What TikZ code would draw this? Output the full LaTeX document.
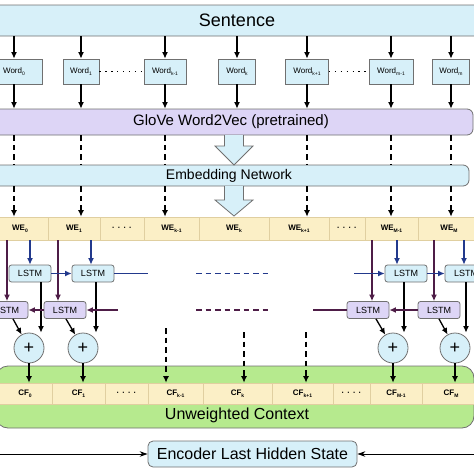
\documentclass[tikz,border=0pt]{standalone}
\usepackage{fontspec}
\setmainfont{Liberation Sans}
\usetikzlibrary{arrows.meta,positioning}
\definecolor{skyfill}{HTML}{D7F0F9}
\definecolor{lilacfill}{HTML}{DDD5F6}
\definecolor{creamfill}{HTML}{FBEFC6}
\definecolor{leaffill}{HTML}{B6EA8E}
\definecolor{edgegray}{HTML}{707070}
\definecolor{cellline}{HTML}{E0CFA0}
\definecolor{fwdblue}{HTML}{22398C}
\definecolor{bwdplum}{HTML}{4E1D47}
\newcommand{\pxfont}[1]{\fontsize{#1}{#1}\selectfont}
\newcommand{\lowidx}[1]{\raisebox{-.45ex}{\pxfont{5}#1}}
\newcommand{\cdotrow}{·\hspace{3pt}·\hspace{3pt}·\hspace{3pt}·}
\tikzset{
  band/.style={draw=edgegray, line width=.8pt, rounded corners=6pt, inner sep=0pt},
  wordbox/.style={draw=edgegray, fill=skyfill, line width=.8pt, minimum height=25, inner xsep=5, font=\pxfont{8}},
  cell/.style={draw=cellline, fill=creamfill, line width=.6pt, inner sep=0pt, font=\bfseries\pxfont{8}},
  lstmfwd/.style={draw=edgegray, fill=skyfill, line width=.8pt, rounded corners=2.5pt, minimum width=42, minimum height=17, inner sep=0pt, font=\pxfont{9}},
  lstmbwd/.style={lstmfwd, fill=lilacfill},
  sumnode/.style={circle, draw=edgegray, fill=skyfill, line width=.8pt, minimum size=30, inner sep=0pt, font=\pxfont{18}},
  arr/.style={line width=1.3pt, -{Latex[length=6.5pt,width=6pt]}},
  dashline/.style={line width=1.3pt, dash pattern=on 5.5pt off 4pt},
}
\begin{document}
\begin{tikzpicture}[x=1pt, y=-1pt]
  \useasboundingbox (0,0) rectangle (474,474);
  \clip (0,0) rectangle (474,474);
  % wide bands
  \node[band, fill=skyfill, minimum width=494, minimum height=31, font=\pxfont{18}] (sentence) at (237,20.5) {Sentence};
  \node[band, fill=lilacfill, minimum width=484, minimum height=26, font=\pxfont{15}] (glove) at (231,122) {GloVe Word2Vec (pretrained)};
  \node[band, fill=skyfill, minimum width=480, minimum height=21, font=\pxfont{14}] (embed) at (229,175.5) {Embedding Network};
  \node[band, fill=leaffill, rounded corners=12pt, minimum width=478, minimum height=62] (context) at (235,397) {};
  \node[font=\pxfont{16}] (ctxlabel) at (237,415) {Unweighted Context};
  % words
  \foreach \i/\x/\w/\t in {0/14/56/Word\lowidx{0}, 1/81/36/Word\lowidx{1}, 2/165/42/Word\lowidx{k-1}, 3/237/37/Word\lowidx{k},
                           4/307/43/Word\lowidx{k+1}, 5/391/44/Word\lowidx{m-1}, 6/451/37/Word\lowidx{m}}{
    \node[wordbox, minimum width=\w] (w\i) at (\x,71.5) {\t};
    \draw[arr] (w\i |- sentence.south) -- (w\i.north);
    \draw[arr] (w\i.south) -- (w\i |- glove.north);
  }
  \draw[line width=1.3pt, dash pattern=on 1.3pt off 4.6pt] (w1.east) -- (w2.west);
  \draw[line width=1.3pt, dash pattern=on 1.3pt off 4.6pt] (w4.east) -- (w5.west);
  % word embeddings and context cells
  \foreach \n/\a/\b/\t in {0/-8/48/WE\lowidx{0}, 1/48/100/WE\lowidx{1}, 2/100/144/\cdotrow, 3/144/199/WE\lowidx{k-1}, 4/199/269/WE\lowidx{k},
                           5/269/329/WE\lowidx{k+1}, 6/329/365/\cdotrow, 7/365/418/WE\lowidx{M-1}, 8/418/480/WE\lowidx{M}}{
    \pgfmathsetmacro\cellmid{(\a+\b)/2}
    \pgfmathsetmacro\cellwd{\b-\a}
    \node[cell, minimum width=\cellwd, minimum height=23] (we\n) at (\cellmid,228.5) {\t};
  }
  \foreach \n/\a/\b/\t in {0/-2/52/CF\lowidx{0}, 1/52/105/CF\lowidx{1}, 2/105/148/\cdotrow, 3/148/203/CF\lowidx{k-1}, 4/203/272/CF\lowidx{k},
                           5/272/333/CF\lowidx{k+1}, 6/333/370/\cdotrow, 7/370/422/CF\lowidx{M-1}, 8/422/480/CF\lowidx{M}}{
    \pgfmathsetmacro\cellmid{(\a+\b)/2}
    \pgfmathsetmacro\cellwd{\b-\a}
    \node[cell, minimum width=\cellwd, minimum height=21] (cf\n) at (\cellmid,393.5) {\t};
  }
  % pretrained lookup, dashed down to the embeddings
  \foreach \i in {0,1,2,4,5,6}{
    \draw[dashline] (w\i |- glove.south) -- (w\i |- embed.north);
    \draw[dashline, arr] (w\i |- embed.south) -- (w\i |- we0.north);
  }
  \foreach \a/\b/\c in {135/146/165, 186/200/216}
    \filldraw[fill=skyfill, draw=edgegray, line width=.8pt] (224.5,\a) -- (224.5,\b) -- (215,\b) -- (234,\c) -- (253,\b) -- (243.5,\b) -- (243.5,\a);
  % bidirectional LSTM and sums
  \foreach \i/\fx/\fdx/\fkx/\bx/\bdx/\bkx/\sx in {1/30/0/11/7/0/6/29, 2/93/-2/3/65/-7/1/83, 3/406/-9/-2/368/4/8/393, 4/466/-2/0/439/-5/0/455}{
    \node[lstmfwd] (f\i) at (\fx,273.5) {LSTM};
    \node[lstmbwd] (b\i) at (\bx,310) {LSTM};
    \node[sumnode] (s\i) at (\sx,348) {+};
    \draw[arr, fwdblue] ([xshift=\fdx]f\i.north |- we0.south) -- ([xshift=\fdx]f\i.north);
    \draw[arr, bwdplum] ([xshift=\bdx]b\i.north |- we0.south) -- ([xshift=\bdx]b\i.north);
    \draw[arr] ([xshift=\fkx]f\i.south) -- ([xshift=\fkx]f\i.south |- s\i.north);
    \draw[arr] ([xshift=\bkx]b\i.south) -- (s\i);
    \draw[arr] (s\i) -- (s\i |- cf0.north);
  }
  \coordinate (fwdtail) at (148,273.5);
  \coordinate (fwdgapL) at (196,273.5);
  \coordinate (fwdgapR) at (268,273.5);
  \coordinate (fwdhead) at (354,273.5);
  \coordinate (bwdhead) at (118,310);
  \coordinate (bwdgapL) at (196,310);
  \coordinate (bwdgapR) at (268,310);
  \coordinate (bwdtail) at (313,310);
  \draw[arr, fwdblue] (f1) -- (f2);
  \draw[line width=1.3pt, fwdblue] (f2) -- (fwdtail);
  \draw[dashline, fwdblue] (fwdgapL) -- (fwdgapR);
  \draw[arr, fwdblue] (fwdhead) -- (f3);
  \draw[arr, fwdblue] (f3) -- (f4);
  \draw[arr, bwdplum] (bwdhead) -- (b2);
  \draw[arr, bwdplum] (b2) -- (b1);
  \draw[dashline, bwdplum] (bwdgapL) -- (bwdgapR);
  \draw[line width=1.3pt, bwdplum] (b3) -- (bwdtail);
  \draw[arr, bwdplum] (b4) -- (b3);
  % skipped steps
  \foreach \i/\x/\y in {1/166/328, 2/244/332, 3/306/332}{
    \coordinate (skip\i) at (\x,\y);
    \draw[dashline, arr] (skip\i) -- (skip\i |- cf0.north);
  }
  % encoder state
  \node[band, fill=skyfill, rounded corners=5pt, minimum width=209, minimum height=26, font=\pxfont{16}] (encoder) at (252.5,454) {Encoder Last Hidden State};
  \coordinate (encL) at (0,454);
  \coordinate (encR) at (474,454);
  \draw[line width=1pt, -{Stealth[length=8pt,width=5.5pt]}] (encL) -- (encoder);
  \draw[line width=1pt, -{Stealth[length=8pt,width=5.5pt]}] (encR) -- (encoder);
\end{tikzpicture}
\end{document}
